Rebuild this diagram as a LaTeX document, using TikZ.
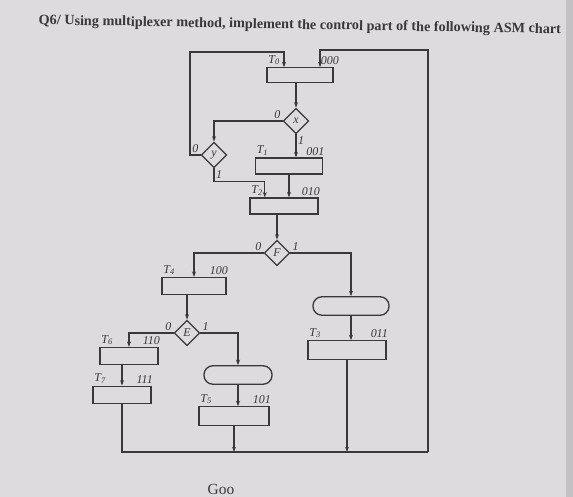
\documentclass[tikz,border=0pt]{standalone}
\usepackage{fontspec}
\setmainfont{Liberation Serif}
\usetikzlibrary{shapes.geometric,arrows.meta}
\definecolor{paper}{RGB}{221,219,221}
\definecolor{ink}{RGB}{58,56,60}
\begin{document}
\begin{tikzpicture}[x=0.025cm,y=-0.025cm,color=ink,line width=0.95pt,
    >={Stealth[length=3.8pt,width=2.8pt]},
    box/.style={draw,rectangle,minimum height=0.42cm,inner sep=0pt},
    oval/.style={draw,rectangle,rounded corners=0.22cm,minimum height=0.46cm,inner sep=0pt},
    cond/.style={draw,diamond,minimum width=0.64cm,minimum height=0.64cm,inner sep=0pt,
      font=\fontsize{8.5}{9}\selectfont\itshape},
    tag/.style={font=\fontsize{8.5}{9}\selectfont\itshape,inner sep=1pt}]
\useasboundingbox (0,0) rectangle (573,497);
\fill[paper] (0,0) rectangle (573,497);
\fill[paper!88!black] (566,0) rectangle (573,497);
\clip (0,0) rectangle (573,497);

\node[anchor=west,rotate=-1,inner sep=0pt,font=\fontsize{10.1}{12}\selectfont\bfseries]
  (title) at (38,21) {Q6/ Using multiplexer method, implement the control part of the following ASM chart};

\node[box,minimum width=1.65cm,minimum height=0.36cm] (T0) at (300,75) {};
\node[cond] (xd) at (296,121) {x};
\node[cond] (yd) at (214,155) {y};
\node[box,minimum width=1.68cm,minimum height=0.4cm] (T1) at (289,166) {};
\node[box,minimum width=1.7cm,minimum height=0.4cm] (T2) at (284,206) {};
\node[cond] (Fd) at (277,253) {F};
\node[box,minimum width=1.6cm] (T4) at (194,286) {};
\node[cond] (Ed) at (187,333) {E};
\node[box,minimum width=1.45cm] (T6) at (129,356) {};
\node[box,minimum width=1.45cm,minimum height=0.44cm] (T7) at (122,395) {};
\node[oval,minimum width=1.7cm] (ovE) at (238,375) {};
\node[box,minimum width=1.75cm,minimum height=0.46cm] (T5) at (234,416) {};
\node[oval,minimum width=1.9cm] (ovF) at (351,306) {};
\node[box,minimum width=1.95cm,minimum height=0.46cm] (T3) at (347,350) {};

\node[tag,anchor=south west] (T0name) at (T0.north west) {T\textsubscript{0}};
\node[tag,anchor=south east] (T0code) at ([xshift=0.18cm]T0.north east) {000};
\node[tag,anchor=south west] (T1name) at (T1.north west) {T\textsubscript{1}};
\node[tag,anchor=south east] (T1code) at ([xshift=0.08cm]T1.north east) {001};
\node[tag,anchor=south west] (T2name) at (T2.north west) {T\textsubscript{2}};
\node[tag,anchor=south east] (T2code) at ([xshift=0.08cm]T2.north east) {010};
\node[tag,anchor=south west] (T4name) at (T4.north west) {T\textsubscript{4}};
\node[tag,anchor=south east] (T4code) at ([xshift=0.08cm]T4.north east) {100};
\node[tag,anchor=south west] (T6name) at (T6.north west) {T\textsubscript{6}};
\node[tag,anchor=south east] (T6code) at ([xshift=0.08cm]T6.north east) {110};
\node[tag,anchor=south west] (T7name) at (T7.north west) {T\textsubscript{7}};
\node[tag,anchor=south east] (T7code) at ([xshift=0.08cm]T7.north east) {111};
\node[tag,anchor=south west] (T5name) at (T5.north west) {T\textsubscript{5}};
\node[tag,anchor=south east] (T5code) at ([xshift=0.08cm]T5.north east) {101};
\node[tag,anchor=south west] (T3name) at (T3.north west) {T\textsubscript{3}};
\node[tag,anchor=south east] (T3code) at ([xshift=0.08cm]T3.north east) {011};

\coordinate (lefttop) at (190,52);
\coordinate (righttop) at (428,50);
\coordinate (bottomright) at (428,452);

\draw[->] (yd.west) node[tag,above left] {0} -| (lefttop) -| ([xshift=-0.4cm]T0.north);
\draw[->] (bottomright) -- (righttop) -| ([xshift=0.5cm]T0.north);
\draw[->] (T0.south -| xd) -- (xd.north);
\draw[->] (xd.west) node[tag,above left] {0} -| (yd.north);
\draw[->] (xd.south) node[tag,below right] {1} -- (xd.south |- T1.north);
\draw[->] (yd.south) node[tag,below right] {1} -- ++(0,13) -| ([xshift=-0.48cm]T2.north);
\draw[->] (T1.south) -- (T1.south |- T2.north);
\draw[->] (T2.south -| Fd) -- (Fd.north);
\draw[->] (Fd.west) node[tag,above left] {0} -| (T4.north);
\draw[->] (Fd.east) node[tag,above right] {1} -| (ovF.north);
\draw[->] (T4.south -| Ed) -- (Ed.north);
\draw[->] (Ed.west) node[tag,above left] {0} -| (T6.north);
\draw[->] (Ed.east) node[tag,above right] {1} -| (ovE.north);
\draw[->] (T7.north |- T6.south) -- (T7.north);
\draw[->] (ovE.south) -- (ovE.south |- T5.north);
\draw[->] (ovF.south) -- (ovF.south |- T3.north);
\draw (T7.south) |- (bottomright);
\draw[->] (T5.south) -- (T5.south |- bottomright);
\draw[->] (T3.south) -- (T3.south |- bottomright);

\node[anchor=north west,inner sep=0pt,font=\fontsize{11}{13}\selectfont] (next) at (207,484) {Goo};
\end{tikzpicture}
\end{document}
